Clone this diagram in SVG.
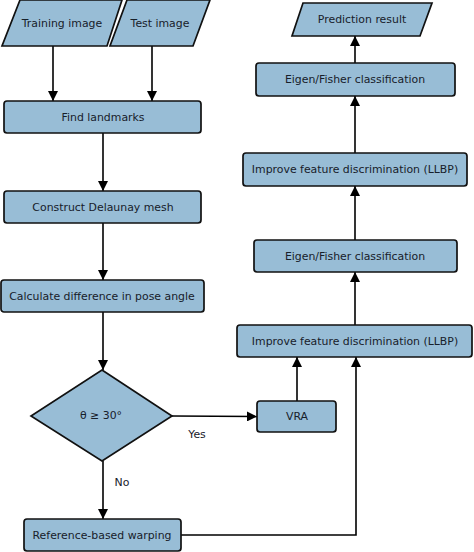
<svg xmlns="http://www.w3.org/2000/svg" width="474" height="552" viewBox="0 0 474 552">
<defs>
<marker id="ah" viewBox="0 0 10 10" refX="10" refY="5" markerWidth="10" markerHeight="10" markerUnits="userSpaceOnUse" orient="auto">
<path d="M0,0 L10,5 L0,10 Z" fill="#000"/>
</marker>
<style>
.n{fill:#98bdd6;stroke:#111;stroke-width:1.7}
.t{font-family:"DejaVu Sans",sans-serif;font-size:10.9px;fill:#17202a;text-anchor:middle;dominant-baseline:central}
.c{fill:none;stroke:#000;stroke-width:1.6;marker-end:url(#ah)}
</style>
</defs>
<rect width="474" height="552" fill="#fff"/>
<g id="connectors">
<line class="c" x1="53" y1="46" x2="53" y2="101"/>
<line class="c" x1="152" y1="46" x2="152" y2="101"/>
<line class="c" x1="103" y1="133" x2="103" y2="191"/>
<line class="c" x1="103" y1="223" x2="103" y2="280"/>
<line class="c" x1="103" y1="312" x2="103" y2="370"/>
<line class="c" x1="172" y1="416" x2="257" y2="416.5"/>
<line class="c" x1="103" y1="461" x2="103" y2="519"/>
<line class="c" x1="297" y1="401" x2="297" y2="357"/>
<polyline class="c" points="181,535 356,535 356,357"/>
<line class="c" x1="355" y1="325" x2="355" y2="272"/>
<line class="c" x1="355" y1="240" x2="355" y2="186"/>
<line class="c" x1="355" y1="153" x2="355" y2="96"/>
<line class="c" x1="355" y1="63" x2="355" y2="36"/>
<text class="t" x="197" y="434">Yes</text>
<text class="t" x="122" y="482">No</text>
</g>
<g id="training">
<polygon class="n" points="20,0 122,0 107,46 2,46"/>
<text class="t" x="62" y="23">Training image</text>
</g>
<g id="test">
<polygon class="n" points="127,0 210,0 193,46 110,46"/>
<text class="t" x="160" y="23">Test image</text>
</g>
<g id="landmarks">
<rect class="n" x="4" y="101" width="197" height="32" rx="3"/>
<text class="t" x="103" y="117">Find landmarks</text>
</g>
<g id="delaunay">
<rect class="n" x="4" y="191" width="197" height="32" rx="3"/>
<text class="t" x="103" y="207">Construct Delaunay mesh</text>
</g>
<g id="pose">
<rect class="n" x="1" y="280" width="203" height="32" rx="3"/>
<text class="t" x="102" y="296">Calculate difference in pose angle</text>
</g>
<g id="decision">
<polygon class="n" points="102,370 172,416 102,461 31,416"/>
<text class="t" x="101" y="415">θ ≥ 30°</text>
</g>
<g id="vra">
<rect class="n" x="257" y="401" width="79" height="31" rx="3"/>
<text class="t" x="297" y="416">VRA</text>
</g>
<g id="warping">
<rect class="n" x="24" y="519" width="157" height="32" rx="3"/>
<text class="t" x="102" y="535">Reference-based warping</text>
</g>
<g id="llbp1">
<rect class="n" x="237" y="325" width="235" height="32" rx="3"/>
<text class="t" x="355" y="341">Improve feature discrimination (LLBP)</text>
</g>
<g id="eigen1">
<rect class="n" x="254" y="240" width="203" height="32" rx="3"/>
<text class="t" x="355" y="256">Eigen/Fisher classification</text>
</g>
<g id="llbp2">
<rect class="n" x="243" y="153" width="224" height="33" rx="3"/>
<text class="t" x="355" y="169">Improve feature discrimination (LLBP)</text>
</g>
<g id="eigen2">
<rect class="n" x="256" y="63" width="199" height="33" rx="3"/>
<text class="t" x="355" y="79">Eigen/Fisher classification</text>
</g>
<g id="prediction">
<polygon class="n" points="303,3 432,3 420,36 292,36"/>
<text class="t" x="362" y="19">Prediction result</text>
</g>
</svg>
